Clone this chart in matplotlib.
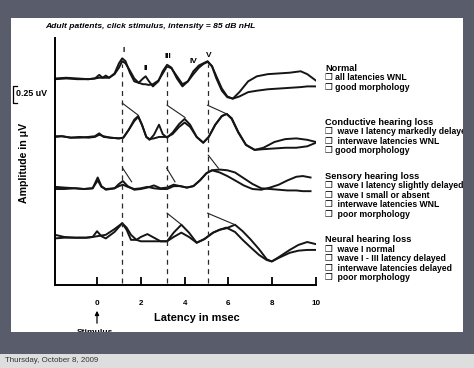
import matplotlib.pyplot as plt
from matplotlib.patches import Rectangle

plt.rcParams['font.family'] = ['Liberation Sans', 'DejaVu Sans']

# ABR traces: latency (ms) and amplitude (uV) relative to each row's baseline
normal_t = [-1.92, -1.4, -0.9, -0.4, -0.1, 0.1, 0.25, 0.4, 0.55, 0.8, 1.0, 1.15, 1.3, 1.5, 1.7,
            1.9, 2.1, 2.22, 2.35, 2.55, 2.8, 3.0, 3.2, 3.4, 3.65, 3.9, 4.15, 4.4, 4.65, 4.85,
            5.05, 5.25, 5.45, 5.7, 5.95, 6.2, 6.5, 6.9, 7.3, 7.8, 8.3, 8.8, 9.3, 9.6, 10.0]
normal_a = [0, 0.01, 0, -0.01, 0, 0.05, 0.01, 0.01, 0.01, 0.07, 0.21, 0.28, 0.24, 0.08, -0.04,
            -0.06, 0, 0.03, -0.03, -0.11, -0.04, 0.10, 0.19, 0.15, 0, -0.11, -0.04, 0.10, 0.18, 0.21,
            0.24, 0.17, 0, -0.17, -0.26, -0.28, -0.19, -0.04, 0.03, 0.06, 0.07, 0.08, 0.10, 0.06, -0.03]
normal_b = [-0.01, 0, -0.01, -0.01, 0, 0.01, 0.01, 0.04, 0.01, 0.06, 0.15, 0.24, 0.21, 0.11, 0,
            -0.06, -0.08, -0.08, -0.09, -0.08, -0.03, 0.07, 0.17, 0.14, 0.03, -0.08, -0.04, 0.06, 0.15, 0.20,
            0.23, 0.17, 0.03, -0.14, -0.25, -0.28, -0.25, -0.19, -0.17, -0.15, -0.14, -0.13, -0.12, -0.11, -0.11]

cond_t = [-1.92, -1.6, -1.2, -0.8, -0.4, -0.1, 0.1, 0.3, 0.6, 1.0, 1.2, 1.45, 1.7, 1.88, 2.05,
          2.25, 2.4, 2.6, 2.83, 3.0, 3.2, 3.45, 3.75, 4.0, 4.25, 4.55, 4.85, 5.1, 5.4, 5.7,
          5.92, 6.15, 6.45, 6.8, 7.2, 7.6, 8.1, 8.6, 9.1, 9.6, 10.0]
cond_a = [0, 0.01, -0.01, -0.01, 0, 0.01, 0.05, 0, -0.01, -0.02, -0.01, 0.10, 0.24, 0.29, 0.17,
          0, -0.04, 0.03, 0.17, 0.04, -0.01, 0.06, 0.18, 0.25, 0.17, 0, -0.08, 0, 0.17, 0.29,
          0.32, 0.25, 0.06, -0.11, -0.18, -0.15, -0.07, -0.03, -0.02, -0.04, -0.07]
cond_b = [0.01, 0.01, -0.01, 0, -0.01, 0, 0.03, 0.01, -0.01, -0.02, -0.01, 0.10, 0.22, 0.28, 0.17,
          0, -0.03, -0.02, 0, 0, 0, 0.04, 0.14, 0.20, 0.14, 0, -0.08, 0, 0.17, 0.29,
          0.32, 0.26, 0.07, -0.11, -0.18, -0.17, -0.16, -0.15, -0.15, -0.13, -0.08]

sens_t = [-1.92, -1.5, -1.0, -0.6, -0.2, 0.03, 0.2, 0.4, 0.8, 1.0, 1.18, 1.4, 1.7, 2.0, 2.3,
          2.6, 2.9, 3.2, 3.5, 3.8, 4.1, 4.4, 4.7, 5.0, 5.25, 5.6, 5.95, 6.3, 6.7, 7.1,
          7.5, 7.9, 8.3, 8.7, 9.1, 9.4, 9.75]
sens_a = [0.02, 0.01, 0, -0.01, 0, 0.15, 0.03, -0.02, 0, 0.06, 0.10, 0.03, -0.02, -0.01, 0.01,
          0.04, 0, 0.01, 0.05, 0.03, 0.01, 0.03, 0.11, 0.21, 0.25, 0.26, 0.25, 0.22, 0.14, 0.06,
          0, -0.01, -0.02, -0.03, -0.03, -0.04, -0.04]
sens_b = [-0.01, -0.01, 0, -0.01, 0, 0.11, 0.02, -0.01, 0, 0.03, 0.05, 0.02, -0.01, 0, 0.02,
          0, -0.01, -0.01, 0.03, 0.03, 0.01, 0.03, 0.11, 0.21, 0.25, 0.22, 0.17, 0.11, 0.04, -0.01,
          -0.02, 0.01, 0.05, 0.11, 0.16, 0.17, 0.15]

neur_t = [-1.92, -1.5, -1.0, -0.5, -0.2, 0.0, 0.2, 0.4, 0.8, 1.15, 1.35, 1.55, 1.8, 2.0, 2.3,
          2.6, 2.9, 3.2, 3.5, 3.85, 4.2, 4.55, 4.9, 5.3, 5.6, 5.9, 6.3, 6.65, 7.0, 7.4,
          7.75, 7.98, 8.3, 8.8, 9.2, 9.6, 10.0]
neur_a = [0.03, 0, -0.01, -0.01, 0, 0.08, 0.01, -0.02, 0.07, 0.19, 0.10, -0.04, -0.04, 0, 0.04,
          -0.01, -0.06, -0.06, 0.06, 0.17, 0.06, -0.08, -0.03, 0.06, 0.10, 0.12, 0.17, 0.08, -0.03, -0.17,
          -0.31, -0.34, -0.28, -0.18, -0.11, -0.07, -0.10]
neur_b = [-0.02, -0.01, -0.01, -0.01, 0, 0.01, 0.02, 0.03, 0.11, 0.19, 0.13, 0.03, -0.04, -0.06, -0.06,
          -0.06, -0.06, -0.06, 0, 0.06, 0, -0.08, -0.03, 0.06, 0.10, 0.13, 0.07, -0.04, -0.14, -0.25,
          -0.32, -0.34, -0.29, -0.22, -0.19, -0.18, -0.18]

# latency-shift marker lines (x0, x1, amplitude at x0, amplitude at x1)
cond_shift = [([1.15, 1.89], [0.47, 0.30]), ([3.2, 4.02], [0.44, 0.27]), ([5.05, 5.92], [0.44, 0.32])]
sens_shift = [([1.17, 1.58], [0.28, 0.09]), ([3.18, 3.56], [0.28, 0.09]), ([5.08, 5.54], [0.46, 0.28])]
neur_shift = [([3.2, 3.86], [0.33, 0.17]), ([5.05, 6.3], [0.33, 0.17])]

normal_latency = [1.15, 3.2, 5.05]   # waves I, III, V
wave_names = ['I', 'II', 'III', 'IV', 'V']
wave_x = [1.2, 2.24, 3.24, 4.38, 5.11]

xticks = [0, 2, 4, 6, 8, 10]

notes = {
    'Normal': [' all latencies WNL', ' good morphology'],
    'Conductive hearing loss': ['  wave I latency markedly delayed', '  interwave latencies WNL', ' good morphology'],
    'Sensory hearing loss': ['  wave I latency slightly delayed', '  wave I small or absent',
                             '  interwave latencies WNL', '  poor morphology'],
    'Neural hearing loss': ['  wave I normal', '  wave I - III latency delayed',
                            '  interwave latencies delayed', '  poor morphology'],
}

# ---- layout (pixel based, figure is 474 x 368)
W, H = 474, 368
fig = plt.figure(figsize=(W / 100, H / 100), dpi=100)
fig.patch.set_facecolor('#595c6b')
fig.patches.append(Rectangle((0, 0), 1, 14 / H, transform=fig.transFigure,
                             facecolor='#dedede', edgecolor='none'))
fig.text(5 / W, 1 - 360 / H, 'Thursday, October 8, 2009', fontsize=5.7, color='#333333',
         va='center', family=['Liberation Sans'])

# white slide panel, coordinates in figure pixels (y downwards)
pan = fig.add_axes([11 / W, 1 - 332 / H, 452 / W, 314 / H])
pan.set_xlim(11, 463)
pan.set_ylim(332, 18)
pan.set_facecolor('white')
pan.set_xticks([])
pan.set_yticks([])
for s in pan.spines.values():
    s.set_visible(False)

pan.text(45, 27, 'Adult patients, click stimulus, intensity = 85 dB nHL', fontsize=6.1,
         fontweight='bold', style='italic', va='center', clip_on=True)
pan.text(24, 163, 'Amplitude in \u03bcV', fontsize=7.6, fontweight='bold', rotation=90,
         ha='center', va='center')
pan.text(16, 94, '0.25 uV', fontsize=6.4, fontweight='bold', va='center')
pan.plot([17, 13, 13, 17], [86, 86, 103, 103], color='black', lw=0.9)
pan.text(197, 318, 'Latency in msec', fontsize=7.9, fontweight='bold', ha='center', va='center')
pan.annotate('', xy=(97, 308), xytext=(97, 326),
             arrowprops=dict(arrowstyle='-|>', lw=0.9, color='black', mutation_scale=6))
pan.text(95, 329, 'Stimulus', fontsize=6.1, fontweight='bold', ha='center', va='top', clip_on=True)

note_y = {'Normal': 68.5, 'Conductive hearing loss': 122.5,
          'Sensory hearing loss': 176.5, 'Neural hearing loss': 240}
for head, items in notes.items():
    y0 = note_y[head]
    pan.text(325, y0, head, fontsize=6.7, fontweight='bold', va='center', clip_on=True)
    for i, item in enumerate(items):
        pan.text(325, y0 + 9.4 * (i + 1), '\u2752' + item, fontsize=6.2, fontweight='bold',
                 va='center', clip_on=True)

# ---- waveform axes
ax = fig.add_axes([55 / W, 1 - 285 / H, 261 / W, 247 / H])
ax.set_facecolor('none')
ax.set_xlim(-1.92, 10)
ax.set_ylim(0, 3.43)
for side in ['top', 'right']:
    ax.spines[side].set_visible(False)
for side in ['left', 'bottom']:
    ax.spines[side].set_linewidth(1.4)
ax.set_yticks([])
ax.set_xticks(xticks)
ax.set_xticklabels([str(v) for v in xticks], fontsize=5.8, fontweight='bold')
ax.tick_params(axis='x', direction='in', length=6, width=1.3, pad=11)

row_offset = [2.868, 2.056, 1.343, 0.667]
rows = [(normal_t, normal_a, normal_b, []),
        (cond_t, cond_a, cond_b, cond_shift),
        (sens_t, sens_a, sens_b, sens_shift),
        (neur_t, neur_a, neur_b, neur_shift)]
for off, (t, a, b, shifts) in zip(row_offset, rows):
    ax.plot(t, [v + off for v in a], color='#151515', lw=1.4, solid_joinstyle='round')
    ax.plot(t, [v + off for v in b], color='#151515', lw=1.4, solid_joinstyle='round')
    for xs, ys in shifts:
        ax.plot(xs, [v + off for v in ys], color='#222222', lw=0.8)

ax.vlines(normal_latency, 0.03, 3.07, colors='#2a2a2a', lw=0.9, linestyles=(0, (4, 3.5)))

wave_y = [3.26, 3.0, 3.17, 3.11, 3.19]
for name, x, y in zip(wave_names, wave_x, wave_y):
    ax.text(x, y, name, fontsize=6, fontweight='bold', ha='center', va='center')

fig.savefig('out.png', dpi=100, facecolor=fig.get_facecolor())
